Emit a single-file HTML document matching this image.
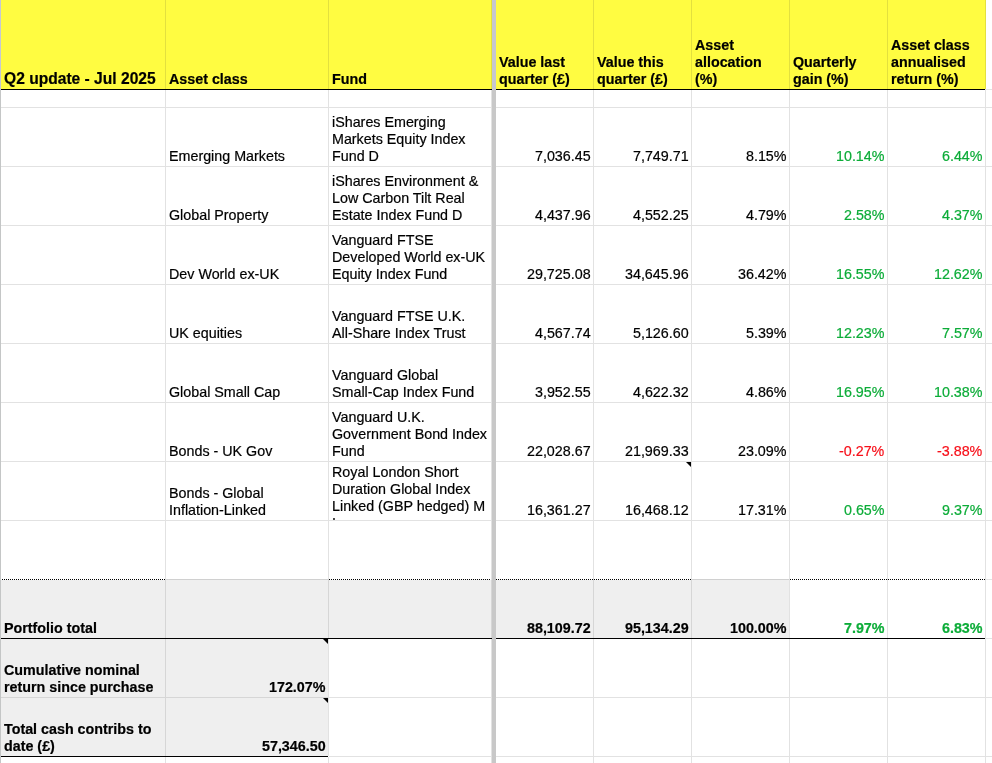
<!DOCTYPE html>
<html><head><meta charset="utf-8"><style>
html,body{margin:0;padding:0;background:#fff;width:992px;height:763px;overflow:hidden;position:relative}
body>div,body>svg{position:absolute}
.dot{height:1px;background:repeating-linear-gradient(90deg,#000 0 1px,transparent 1px 2px)}
.t{position:absolute;font-family:"Liberation Sans",sans-serif;font-size:14.3px;line-height:17px;white-space:nowrap;color:#000;-webkit-font-smoothing:antialiased;will-change:transform;-webkit-text-stroke:0.2px currentColor}
.b{font-weight:bold}
</style></head><body>
<div style="left:1px;top:0px;width:984px;height:89px;background:#fffc41"></div>
<div style="left:1px;top:580px;width:788px;height:58px;background:#efefef"></div>
<div style="left:1px;top:639px;width:327px;height:117px;background:#efefef"></div>
<div style="left:165px;top:0px;width:1px;height:89px;background:#e3e03e"></div>
<div style="left:165px;top:90px;width:1px;height:490px;background:#e2e2e2"></div>
<div style="left:165px;top:580px;width:1px;height:58px;background:#d6d6d6"></div>
<div style="left:165px;top:639px;width:1px;height:117px;background:#d6d6d6"></div>
<div style="left:165px;top:757px;width:1px;height:6px;background:#e2e2e2"></div>
<div style="left:328px;top:0px;width:1px;height:89px;background:#e3e03e"></div>
<div style="left:328px;top:90px;width:1px;height:490px;background:#e2e2e2"></div>
<div style="left:328px;top:580px;width:1px;height:58px;background:#d6d6d6"></div>
<div style="left:328px;top:639px;width:1px;height:117px;background:#e2e2e2"></div>
<div style="left:328px;top:757px;width:1px;height:6px;background:#e2e2e2"></div>
<div style="left:491px;top:0px;width:1px;height:89px;background:#e3e03e"></div>
<div style="left:491px;top:90px;width:1px;height:490px;background:#e2e2e2"></div>
<div style="left:491px;top:580px;width:1px;height:58px;background:#d6d6d6"></div>
<div style="left:491px;top:639px;width:1px;height:117px;background:#e2e2e2"></div>
<div style="left:491px;top:757px;width:1px;height:6px;background:#e2e2e2"></div>
<div style="left:593px;top:0px;width:1px;height:89px;background:#e3e03e"></div>
<div style="left:593px;top:90px;width:1px;height:490px;background:#e2e2e2"></div>
<div style="left:593px;top:580px;width:1px;height:58px;background:#d6d6d6"></div>
<div style="left:593px;top:639px;width:1px;height:117px;background:#e2e2e2"></div>
<div style="left:593px;top:757px;width:1px;height:6px;background:#e2e2e2"></div>
<div style="left:691px;top:0px;width:1px;height:89px;background:#e3e03e"></div>
<div style="left:691px;top:90px;width:1px;height:490px;background:#e2e2e2"></div>
<div style="left:691px;top:580px;width:1px;height:58px;background:#d6d6d6"></div>
<div style="left:691px;top:639px;width:1px;height:117px;background:#e2e2e2"></div>
<div style="left:691px;top:757px;width:1px;height:6px;background:#e2e2e2"></div>
<div style="left:789px;top:0px;width:1px;height:89px;background:#e3e03e"></div>
<div style="left:789px;top:90px;width:1px;height:490px;background:#e2e2e2"></div>
<div style="left:789px;top:580px;width:1px;height:58px;background:#e2e2e2"></div>
<div style="left:789px;top:639px;width:1px;height:117px;background:#e2e2e2"></div>
<div style="left:789px;top:757px;width:1px;height:6px;background:#e2e2e2"></div>
<div style="left:887px;top:0px;width:1px;height:89px;background:#e3e03e"></div>
<div style="left:887px;top:90px;width:1px;height:490px;background:#e2e2e2"></div>
<div style="left:887px;top:580px;width:1px;height:58px;background:#e2e2e2"></div>
<div style="left:887px;top:639px;width:1px;height:117px;background:#e2e2e2"></div>
<div style="left:887px;top:757px;width:1px;height:6px;background:#e2e2e2"></div>
<div style="left:985px;top:0px;width:1px;height:89px;background:#e3e03e"></div>
<div style="left:985px;top:90px;width:1px;height:490px;background:#e2e2e2"></div>
<div style="left:985px;top:580px;width:1px;height:58px;background:#e2e2e2"></div>
<div style="left:985px;top:639px;width:1px;height:117px;background:#e2e2e2"></div>
<div style="left:985px;top:757px;width:1px;height:6px;background:#e2e2e2"></div>
<div style="left:1px;top:107px;width:991px;height:1px;background:#e2e2e2"></div>
<div style="left:1px;top:166px;width:991px;height:1px;background:#e2e2e2"></div>
<div style="left:1px;top:225px;width:991px;height:1px;background:#e2e2e2"></div>
<div style="left:1px;top:284px;width:991px;height:1px;background:#e2e2e2"></div>
<div style="left:1px;top:343px;width:991px;height:1px;background:#e2e2e2"></div>
<div style="left:1px;top:402px;width:991px;height:1px;background:#e2e2e2"></div>
<div style="left:1px;top:461px;width:991px;height:1px;background:#e2e2e2"></div>
<div style="left:1px;top:520px;width:991px;height:1px;background:#e2e2e2"></div>
<div style="left:166px;top:579px;width:162px;height:1px;background:#d0d0d0"></div>
<div style="left:692px;top:579px;width:97px;height:1px;background:#d0d0d0"></div>
<div style="left:985px;top:579px;width:7px;height:1px;background:#e2e2e2"></div>
<div style="left:985px;top:89px;width:7px;height:1px;background:#e2e2e2"></div>
<div style="left:985px;top:638px;width:7px;height:1px;background:#e2e2e2"></div>
<div style="left:1px;top:697px;width:327px;height:1px;background:#d6d6d6"></div>
<div style="left:329px;top:697px;width:663px;height:1px;background:#e2e2e2"></div>
<div style="left:329px;top:756px;width:663px;height:1px;background:#e2e2e2"></div>
<div style="left:0px;top:0px;width:1px;height:89px;background:#c6c8d2"></div>
<div style="left:0px;top:89px;width:1px;height:674px;background:#c4c6c6"></div>
<div style="left:492px;top:0px;width:4px;height:89px;background:#c6c7cf"></div>
<div style="left:1px;top:89px;width:984px;height:1px;background:#000"></div>
<div style="left:1px;top:638px;width:984px;height:1px;background:#000"></div>
<div style="left:1px;top:756px;width:327px;height:1px;background:#000"></div>
<div class="dot" style="left:2px;top:579px;width:163px"></div>
<div class="dot" style="left:329px;top:579px;width:162px"></div>
<div class="dot" style="left:496px;top:579px;width:195px"></div>
<div class="dot" style="left:790px;top:579px;width:195px"></div>
<div style="left:492px;top:89px;width:4px;height:674px;background:#c8c8c8"></div>
<div class="t b" style="left:4px;top:70.14px;font-size:15.6px;">Q2 update - Jul 2025</div>
<div class="t b" style="left:169px;top:70.94px;">Asset class</div>
<div class="t b" style="left:332px;top:70.94px;">Fund</div>
<div class="t b" style="left:499px;top:53.94px;">Value last</div>
<div class="t b" style="left:499px;top:70.94px;">quarter (£)</div>
<div class="t b" style="left:597px;top:53.94px;">Value this</div>
<div class="t b" style="left:597px;top:70.94px;">quarter (£)</div>
<div class="t b" style="left:695px;top:36.94px;">Asset</div>
<div class="t b" style="left:695px;top:53.94px;">allocation</div>
<div class="t b" style="left:695px;top:70.94px;">(%)</div>
<div class="t b" style="left:793px;top:53.94px;">Quarterly</div>
<div class="t b" style="left:793px;top:70.94px;">gain (%)</div>
<div class="t b" style="left:891px;top:36.94px;">Asset class</div>
<div class="t b" style="left:891px;top:53.94px;">annualised</div>
<div class="t b" style="left:891px;top:70.94px;">return (%)</div>
<div class="t" style="left:169px;top:147.94px;">Emerging Markets</div>
<div class="t" style="left:332px;top:113.94px;">iShares Emerging</div>
<div class="t" style="left:332px;top:130.94px;">Markets Equity Index</div>
<div class="t" style="left:332px;top:147.94px;">Fund D</div>
<div class="t" style="right:401.50px;top:147.94px;">7,036.45</div>
<div class="t" style="right:303.50px;top:147.94px;">7,749.71</div>
<div class="t" style="right:205.50px;top:147.94px;">8.15%</div>
<div class="t" style="right:107.50px;top:147.94px;color:#0cac38;">10.14%</div>
<div class="t" style="right:9.50px;top:147.94px;color:#0cac38;">6.44%</div>
<div class="t" style="left:169px;top:206.94px;">Global Property</div>
<div class="t" style="left:332px;top:172.94px;">iShares Environment &amp;</div>
<div class="t" style="left:332px;top:189.94px;">Low Carbon Tilt Real</div>
<div class="t" style="left:332px;top:206.94px;">Estate Index Fund D</div>
<div class="t" style="right:401.50px;top:206.94px;">4,437.96</div>
<div class="t" style="right:303.50px;top:206.94px;">4,552.25</div>
<div class="t" style="right:205.50px;top:206.94px;">4.79%</div>
<div class="t" style="right:107.50px;top:206.94px;color:#0cac38;">2.58%</div>
<div class="t" style="right:9.50px;top:206.94px;color:#0cac38;">4.37%</div>
<div class="t" style="left:169px;top:265.94px;">Dev World ex-UK</div>
<div class="t" style="left:332px;top:231.94px;">Vanguard FTSE</div>
<div class="t" style="left:332px;top:248.94px;">Developed World ex-UK</div>
<div class="t" style="left:332px;top:265.94px;">Equity Index Fund</div>
<div class="t" style="right:401.50px;top:265.94px;">29,725.08</div>
<div class="t" style="right:303.50px;top:265.94px;">34,645.96</div>
<div class="t" style="right:205.50px;top:265.94px;">36.42%</div>
<div class="t" style="right:107.50px;top:265.94px;color:#0cac38;">16.55%</div>
<div class="t" style="right:9.50px;top:265.94px;color:#0cac38;">12.62%</div>
<div class="t" style="left:169px;top:324.94px;">UK equities</div>
<div class="t" style="left:332px;top:307.94px;">Vanguard FTSE U.K.</div>
<div class="t" style="left:332px;top:324.94px;">All-Share Index Trust</div>
<div class="t" style="right:401.50px;top:324.94px;">4,567.74</div>
<div class="t" style="right:303.50px;top:324.94px;">5,126.60</div>
<div class="t" style="right:205.50px;top:324.94px;">5.39%</div>
<div class="t" style="right:107.50px;top:324.94px;color:#0cac38;">12.23%</div>
<div class="t" style="right:9.50px;top:324.94px;color:#0cac38;">7.57%</div>
<div class="t" style="left:169px;top:383.94px;">Global Small Cap</div>
<div class="t" style="left:332px;top:366.94px;">Vanguard Global</div>
<div class="t" style="left:332px;top:383.94px;">Small-Cap Index Fund</div>
<div class="t" style="right:401.50px;top:383.94px;">3,952.55</div>
<div class="t" style="right:303.50px;top:383.94px;">4,622.32</div>
<div class="t" style="right:205.50px;top:383.94px;">4.86%</div>
<div class="t" style="right:107.50px;top:383.94px;color:#0cac38;">16.95%</div>
<div class="t" style="right:9.50px;top:383.94px;color:#0cac38;">10.38%</div>
<div class="t" style="left:169px;top:442.94px;">Bonds - UK Gov</div>
<div class="t" style="left:332px;top:408.94px;">Vanguard U.K.</div>
<div class="t" style="left:332px;top:425.94px;">Government Bond Index</div>
<div class="t" style="left:332px;top:442.94px;">Fund</div>
<div class="t" style="right:401.50px;top:442.94px;">22,028.67</div>
<div class="t" style="right:303.50px;top:442.94px;">21,969.33</div>
<div class="t" style="right:205.50px;top:442.94px;">23.09%</div>
<div class="t" style="right:107.50px;top:442.94px;color:#f7101a;">-0.27%</div>
<div class="t" style="right:9.50px;top:442.94px;color:#f7101a;">-3.88%</div>
<div class="t" style="left:169px;top:484.94px;">Bonds - Global</div>
<div class="t" style="left:169px;top:501.94px;">Inflation-Linked</div>
<div class="t" style="left:332px;top:464.04px;">Royal London Short</div>
<div class="t" style="left:332px;top:481.04px;">Duration Global Index</div>
<div class="t" style="left:332px;top:498.04px;">Linked (GBP hedged) M</div>
<div class="t" style="right:401.50px;top:501.94px;">16,361.27</div>
<div class="t" style="right:303.50px;top:501.94px;">16,468.12</div>
<div class="t" style="right:205.50px;top:501.94px;">17.31%</div>
<div class="t" style="right:107.50px;top:501.94px;color:#0cac38;">0.65%</div>
<div class="t" style="right:9.50px;top:501.94px;color:#0cac38;">9.37%</div>
<div style="left:329px;top:462px;width:162px;height:58px;overflow:hidden"><div class="t" style="left:3px;top:53.04px">Inc</div></div>
<div class="t b" style="left:4px;top:619.94px;">Portfolio total</div>
<div class="t b" style="right:401.50px;top:619.94px;">88,109.72</div>
<div class="t b" style="right:303.50px;top:619.94px;">95,134.29</div>
<div class="t b" style="right:205.50px;top:619.94px;">100.00%</div>
<div class="t b" style="right:107.50px;top:619.94px;color:#0cac38;">7.97%</div>
<div class="t b" style="right:9.50px;top:619.94px;color:#0cac38;">6.83%</div>
<div class="t b" style="left:4px;top:661.94px;">Cumulative nominal</div>
<div class="t b" style="left:4px;top:678.94px;">return since purchase</div>
<div class="t b" style="right:666.50px;top:678.94px;">172.07%</div>
<div class="t b" style="left:4px;top:720.94px;">Total cash contribs to</div>
<div class="t b" style="left:4px;top:737.94px;">date (£)</div>
<div class="t b" style="right:666.50px;top:737.94px;">57,346.50</div>
<svg style="left:686px;top:462px" width="5" height="5"><path d="M0 0H5V5Z" fill="#000"/></svg>
<svg style="left:323px;top:639px" width="5" height="5"><path d="M0 0H5V5Z" fill="#000"/></svg>
<svg style="left:323px;top:698px" width="5" height="5"><path d="M0 0H5V5Z" fill="#000"/></svg>
</body></html>
